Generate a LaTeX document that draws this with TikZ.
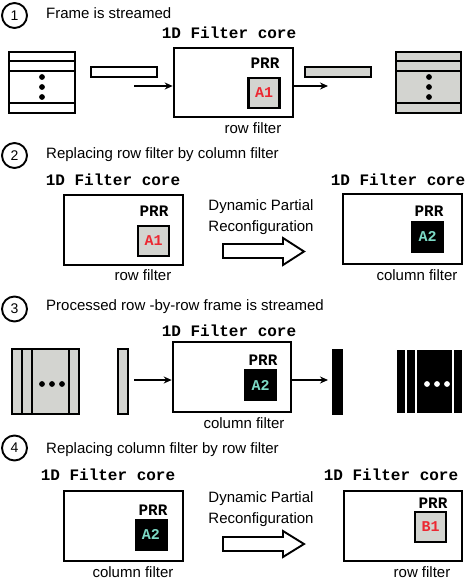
\documentclass[tikz,border=0pt]{standalone}
\usepackage{fontspec}
\setmainfont{Liberation Sans}
\setsansfont{Liberation Sans}
\setmonofont{Liberation Mono}
\usetikzlibrary{arrows.meta}
\definecolor{boxgray}{RGB}{211,212,208}
\definecolor{redtxt}{RGB}{236,40,50}
\definecolor{tealtxt}{RGB}{125,218,198}
\tikzset{
  sans/.style={font=\fontsize{15}{15}\selectfont, inner sep=0pt, anchor=base},
  mono/.style={font=\fontsize{16}{16}\selectfont\ttfamily\bfseries, inner sep=0pt, anchor=base},
  stepnum/.style={circle, draw, line width=1.9pt, minimum size=25pt, inner sep=0pt, font=\fontsize{14}{14}\selectfont},
  core/.style={draw, line width=2.6pt, inner sep=0pt},
  prrgray/.style={draw, line width=2.6pt, fill=boxgray, inner sep=0pt, minimum width=31pt, minimum height=30pt, text=redtxt, font=\fontsize{15}{15}\selectfont\ttfamily\bfseries},
  prrblack/.style={fill=black, inner sep=0pt, minimum width=33pt, minimum height=32pt, text=tealtxt, font=\fontsize{15}{15}\selectfont\ttfamily\bfseries},
  flow/.style={line width=1.8pt, -{Stealth[length=8pt,width=7pt]}},
  frame/.style={draw, line width=1.9pt},
  bigarrow/.style={draw, line width=1.9pt, fill=white, line join=miter},
}
\begin{document}
\begin{tikzpicture}[x=1pt,y=-1pt]
\useasboundingbox (0,0) rectangle (474,587);

%%%%%%%%%%%%%%%% Section 1
\node[stepnum] (n1) at (14.5,15.5) {1};
\node[sans, anchor=base west] (t1) at (46,18) {Frame is streamed};
\node[mono] (h1) at (229,38) {1D Filter core};
% left frame (white)
\draw[frame] (9,52) rectangle (75,113);
\draw[frame] (9,61) -- (75,61) (9,71) -- (75,71) (9,103) -- (75,103);
\foreach \yy in {77,87,97} \fill (42,\yy) circle (2.9);
\node[frame, fill=white, minimum width=66pt, minimum height=10pt, inner sep=0pt] (r1) at (124,72) {};
\coordinate (s1) at (134,86);
\node[core, minimum width=119pt, minimum height=69pt] (c1) at (233.5,82.5) {};
\node[mono] (p1) at (265,68) {PRR};
\node[prrgray] (a1) at (264,93) {A1};
\node[sans] (l1) at (253,133) {row filter};
\draw[flow] (s1) -- (s1 -| c1.west);
\coordinate (e1) at (328,86);
\draw[flow] (e1 -| c1.east) -- (e1);
\node[frame, fill=boxgray, minimum width=66pt, minimum height=10pt, inner sep=0pt] (g1) at (338,72) {};
% right frame (gray)
\draw[frame, fill=boxgray] (396,52) rectangle (461,113);
\draw[frame] (396,61) -- (461,61) (396,71) -- (461,71) (396,103) -- (461,103);
\foreach \yy in {77,87,97} \fill (429,\yy) circle (2.9);

%%%%%%%%%%%%%%%% Section 2
\node[stepnum] (n2) at (14.5,155.5) {2};
\node[sans, anchor=base west] (t2) at (46,158) {Replacing row filter by column filter};
\node[mono] (h2a) at (113,185) {1D Filter core};
\node[core, minimum width=119pt, minimum height=70pt] (c2a) at (123.5,230) {};
\node[mono] (p2a) at (154,216) {PRR};
\node[prrgray] (a2a) at (153.5,241) {A1};
\node[sans] (l2a) at (143,280) {row filter};
\node[sans] (d2a) at (261,210) {Dynamic Partial};
\node[sans] (d2b) at (261,231) {Reconfiguration};
\draw[bigarrow] (223,244) -- (283,244) -- (283,238) -- (304,251.5) -- (283,265) -- (283,258) -- (223,258) -- cycle;
\node[mono] (h2b) at (398,185) {1D Filter core};
\node[core, minimum width=119pt, minimum height=70pt] (c2b) at (402.5,229) {};
\node[mono] (p2b) at (429,216) {PRR};
\node[prrblack] (a2b) at (427.5,236.5) {A2};
\node[sans] (l2b) at (417,280) {column filter};

%%%%%%%%%%%%%%%% Section 3
\node[stepnum] (n3) at (14.5,309) {3};
\node[sans, anchor=base west] (t3) at (46,310) {Processed row -by-row frame is streamed};
\node[mono] (h3) at (229,336) {1D Filter core};
% left frame (gray columns)
\draw[frame, fill=boxgray] (12,349) rectangle (79,414);
\draw[frame] (22,349) -- (22,414) (32,349) -- (32,414) (69,349) -- (69,414);
\foreach \xx in {42,52,62} \fill (\xx,384) circle (2.9);
\node[frame, fill=boxgray, minimum width=10pt, minimum height=65pt, inner sep=0pt] (r3) at (123,381.5) {};
\coordinate (s3) at (134,380);
\node[core, minimum width=118pt, minimum height=70pt] (c3) at (232,377) {};
\node[mono] (p3) at (263,365) {PRR};
\node[prrblack] (a3) at (260.5,385) {A2};
\node[sans] (l3) at (244,428) {column filter};
\draw[flow] (s3) -- (s3 -| c3.west);
\coordinate (e3) at (328,380);
\draw[flow] (e3 -| c3.east) -- (e3);
\node[fill=black, minimum width=11pt, minimum height=66pt, inner sep=0pt] (g3) at (337.5,382) {};
% right frame (black columns)
\fill (397,350) rectangle (462,413);
\draw[white, line width=2pt] (406,350) -- (406,413) (416,350) -- (416,413) (453,350) -- (453,413);
\foreach \xx in {427,437,447} \fill[white] (\xx,384) circle (2.9);

%%%%%%%%%%%%%%%% Section 4
\node[stepnum] (n4) at (14.5,448) {4};
\node[sans, anchor=base west] (t4) at (46,453) {Replacing column filter by row filter};
\node[mono] (h4a) at (108,480) {1D Filter core};
\node[core, minimum width=119pt, minimum height=70pt] (c4a) at (123.5,526) {};
\node[mono] (p4a) at (153,515) {PRR};
\node[prrblack] (a4a) at (151,534.5) {A2};
\node[sans] (l4a) at (133,577) {column filter};
\node[sans] (d4a) at (261,502) {Dynamic Partial};
\node[sans] (d4b) at (261,523) {Reconfiguration};
\draw[bigarrow] (223,537) -- (283,537) -- (283,531) -- (304,544) -- (283,557) -- (283,551) -- (223,551) -- cycle;
\node[mono] (h4b) at (391,480) {1D Filter core};
\node[core, minimum width=118pt, minimum height=70pt] (c4b) at (403,526) {};
\node[mono] (p4b) at (433,508) {PRR};
\node[prrgray] (a4b) at (430.5,527) {B1};
\node[sans] (l4b) at (422,577) {row filter};
\end{tikzpicture}
\end{document}
